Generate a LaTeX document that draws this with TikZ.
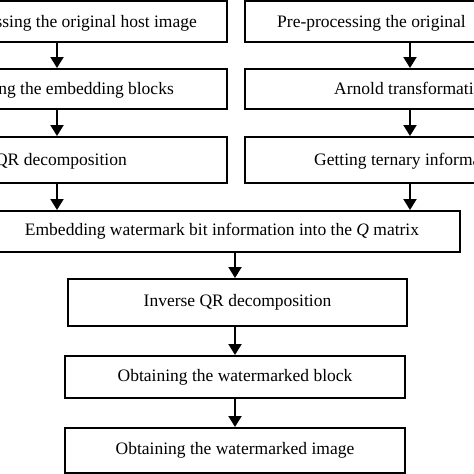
\documentclass[tikz,border=0pt]{standalone}
\usepackage{fontspec}
\setmainfont{Liberation Serif}
\usetikzlibrary{arrows.meta}
\begin{document}
\begin{tikzpicture}[x=1pt,y=-1pt,
  box/.style={draw,line width=2pt,inner sep=0pt,font=\fontsize{17.5}{20}\selectfont},
  lbl/.style={inner sep=0pt,font=\fontsize{17.5}{20}\selectfont},
  arr/.style={line width=2pt,-{Triangle[length=11pt,width=13pt]}}]
\useasboundingbox (0,0) rectangle (474,474);
\clip (0,0) rectangle (474,474);
\fill[white] (0,0) rectangle (474,474);
% left column
\node[box,minimum width=287pt,minimum height=41pt] (L1) at (83.5,21.5) {};
\node[box,minimum width=287pt,minimum height=40pt] (L2) at (83.5,89) {};
\node[box,minimum width=287pt,minimum height=46pt] (L3) at (83.5,160) {};
\node[lbl,anchor=base east] (tL1) at (197,27) {ssing the original host image};
\node[lbl,anchor=base east] (tL2) at (174,94.5) {ing the embedding blocks};
\node[lbl,anchor=base east] (tL3) at (127,165.5) {QR decomposition};
% right column
\node[box,minimum width=295pt,minimum height=41pt] (R1) at (392.5,21.5) {};
\node[box,minimum width=295pt,minimum height=40pt] (R2) at (392.5,89) {};
\node[box,minimum width=295pt,minimum height=46pt] (R3) at (392.5,160) {};
\node[lbl,anchor=base west] (tR1) at (277,27) {Pre-processing the original};
\node[lbl,anchor=base west] (tR2) at (334,94.5) {Arnold transformation};
\node[lbl,anchor=base west] (tR3) at (314,165.5) {Getting ternary information};
% lower chain
\node[box,minimum width=476pt,minimum height=41pt] (E) at (222,231.5) {Embedding watermark bit information into the \textit{Q} matrix};
\node[box,minimum width=339pt,minimum height=47pt] (I) at (237.5,302.5) {Inverse QR decomposition};
\node[box,minimum width=340pt,minimum height=42pt] (B) at (235,377) {Obtaining the watermarked block};
\node[box,minimum width=340pt,minimum height=45pt] (M) at (235,450.5) {Obtaining the watermarked image};
% arrow columns
\coordinate (cl) at (57,0);
\coordinate (cr) at (410,0);
\coordinate (cm) at (235,0);
\draw[arr] (cl |- L1.south) -- (cl |- L2.north);
\draw[arr] (cl |- L2.south) -- (cl |- L3.north);
\draw[arr] (cl |- L3.south) -- (cl |- E.north);
\draw[arr] (cr |- R1.south) -- (cr |- R2.north);
\draw[arr] (cr |- R2.south) -- (cr |- R3.north);
\draw[arr] (cr |- R3.south) -- (cr |- E.north);
\draw[arr] (cm |- E.south) -- (cm |- I.north);
\draw[arr] (cm |- I.south) -- (cm |- B.north);
\draw[arr] (cm |- B.south) -- (cm |- M.north);
\end{tikzpicture}
\end{document}
